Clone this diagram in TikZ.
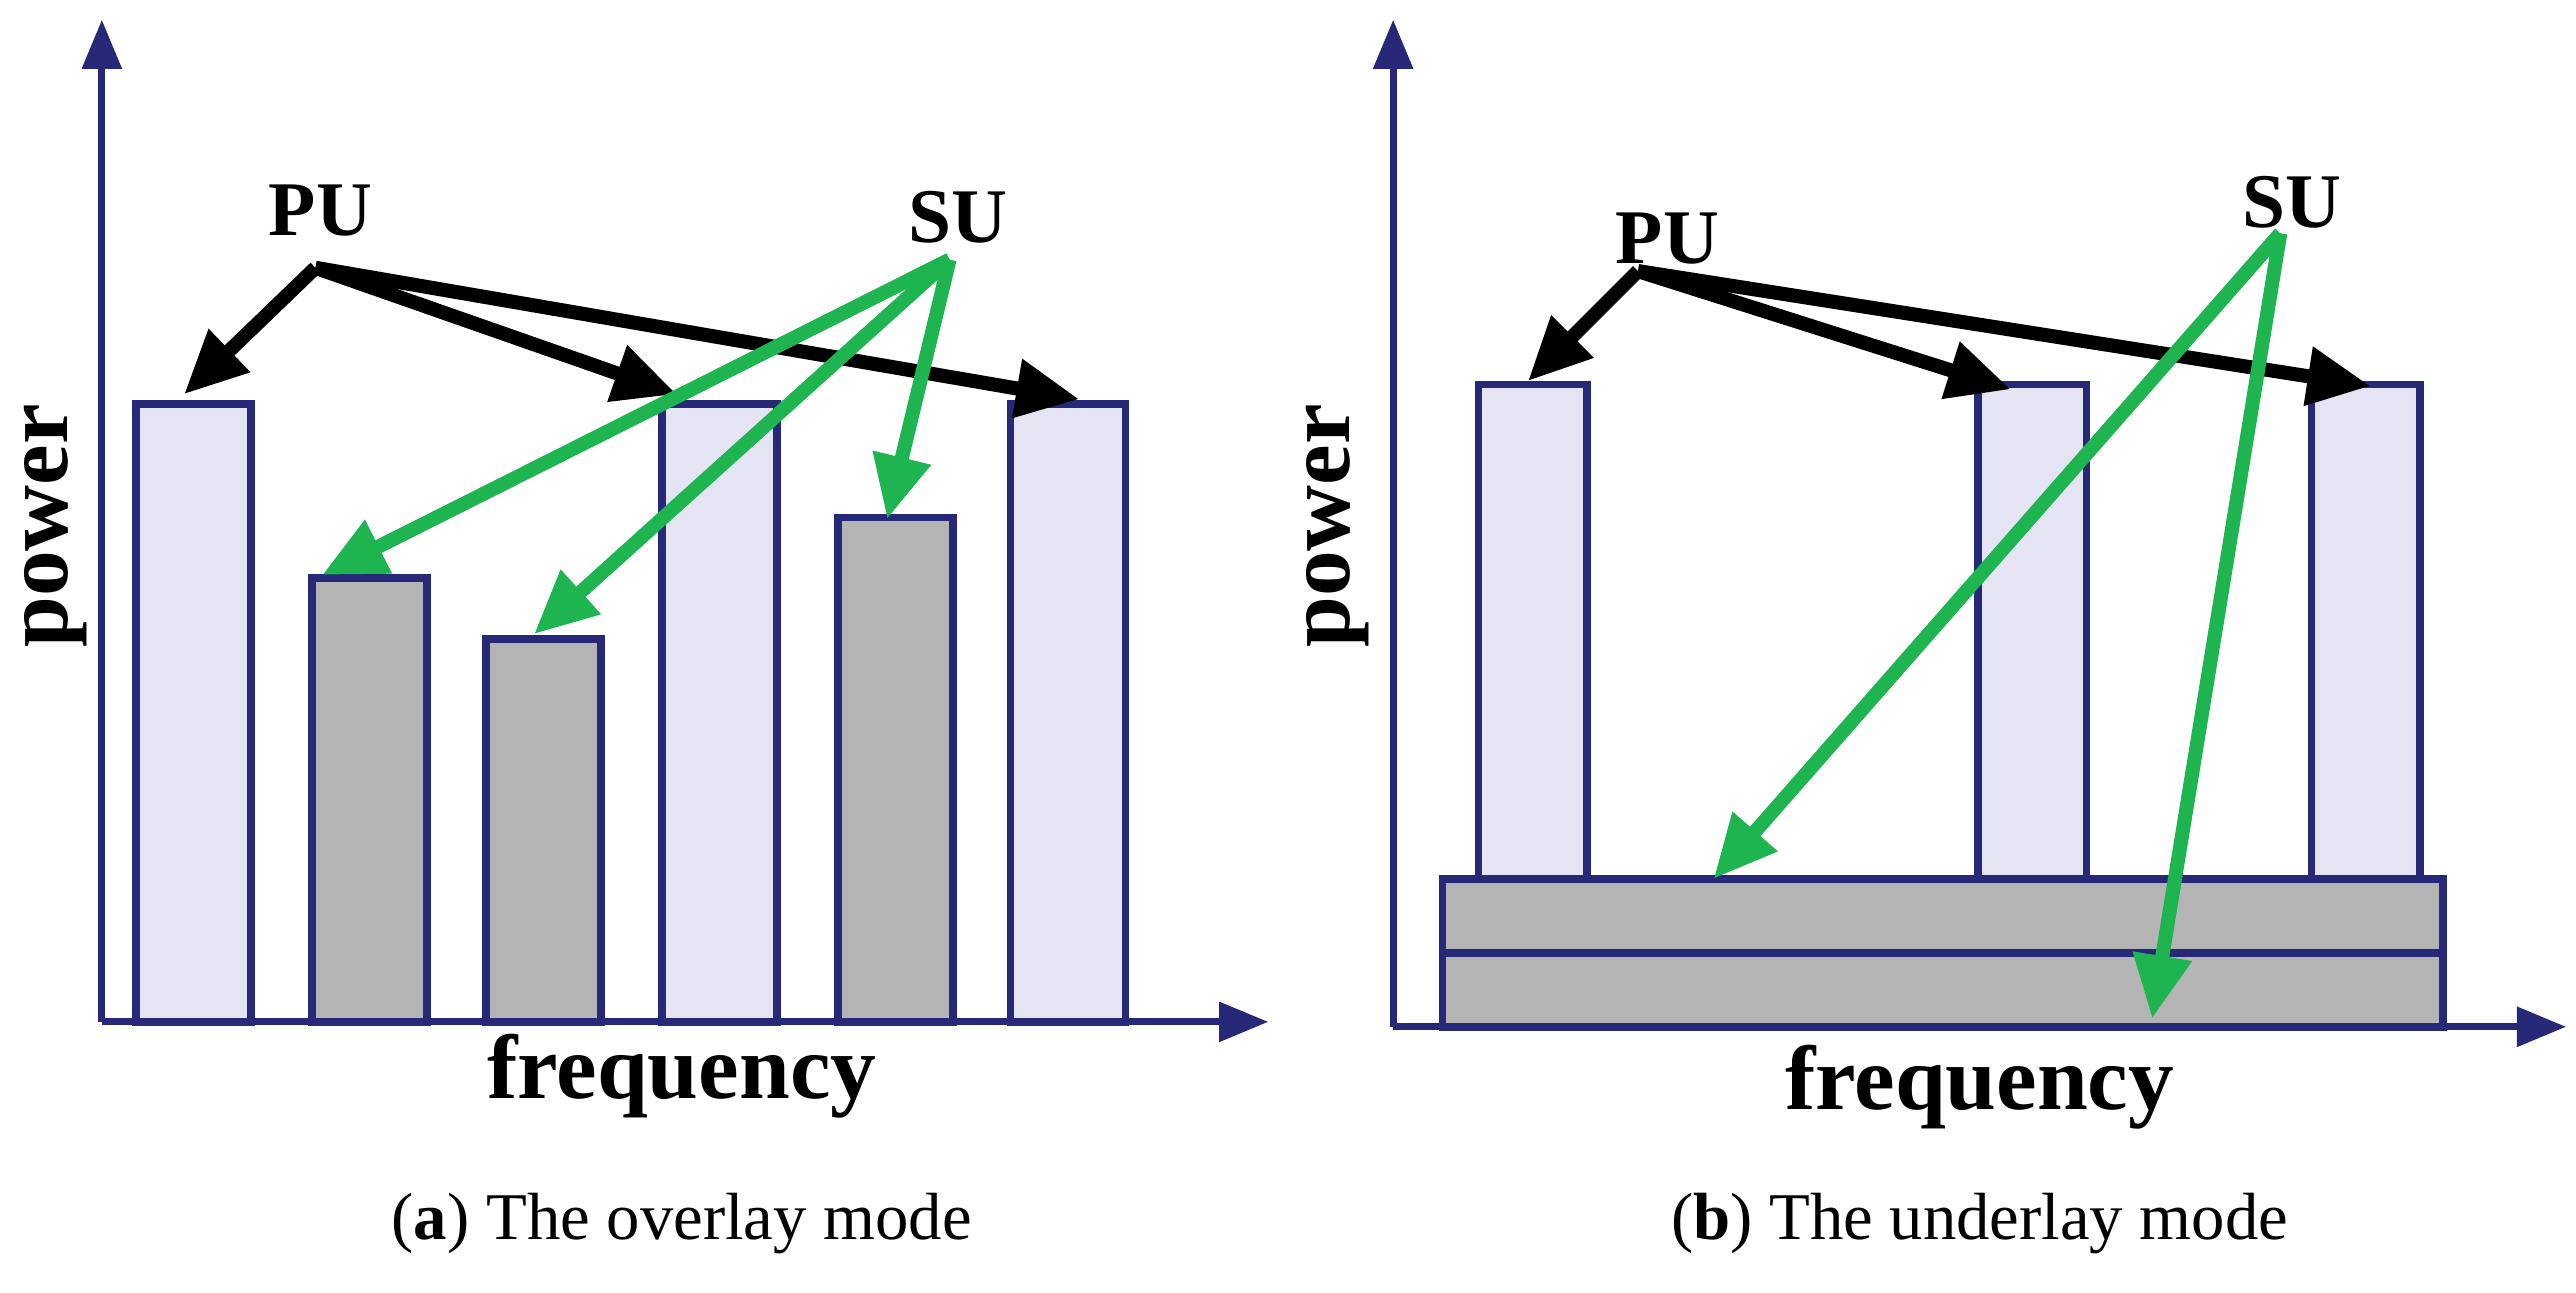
\documentclass[tikz,border=0pt]{standalone}
\usepackage{fontspec}
\setmainfont{Liberation Serif}
\usetikzlibrary{arrows.meta, positioning}

\definecolor{axisblue}{RGB}{40,40,120}
\definecolor{barlight}{RGB}{228,228,242}
\definecolor{bargray}{RGB}{180,180,180}
\definecolor{sugreen}{RGB}{30,180,80}

\tikzset{
  axis/.style={axisblue, line width=2pt, -{Triangle[length=14pt,width=11pt]}},
  pubar/.style={draw=axisblue, fill=barlight, line width=2.2pt},
  subar/.style={draw=axisblue, fill=bargray, line width=2.2pt},
  puarrow/.style={black, line width=4pt, -{Triangle[length=18pt,width=16pt]}},
  suarrow/.style={sugreen, line width=4pt, -{Triangle[length=18pt,width=16pt]}},
  user/.style={font=\fontsize{22}{26}\selectfont\bfseries},
  axislabel/.style={font=\fontsize{26}{30}\selectfont\bfseries},
  caption/.style={font=\fontsize{19}{22}\selectfont}
}

\begin{document}
\begin{tikzpicture}[x=0.01643cm, y=-0.01643cm]
\useasboundingbox (0,0) rectangle (1568,787);

% (a) overlay mode
\coordinate (oa) at (62,622);
\coordinate (ay) at (62,12);
\coordinate (ax) at (772,622);
\draw[axis] (oa) -- (ay);
\draw[axis] (oa) -- (ax);
\draw[pubar] (83,622) rectangle (153,246);
\draw[subar] (190,622) rectangle (260,352);
\draw[subar] (296,622) rectangle (366,389);
\draw[pubar] (403,622) rectangle (473,246);
\draw[subar] (510,622) rectangle (580,315);
\draw[pubar] (615,622) rectangle (685,246);
\node[user] (pua) at (195,128) {PU};
\node[user] (sua) at (583,132) {SU};
\coordinate (pusrca) at (192,163);
\coordinate (susrca) at (578,158);
\draw[puarrow] (pusrca) -- (112,240);
\draw[puarrow] (pusrca) -- (412,240);
\draw[puarrow] (pusrca) -- (657,243);
\draw[suarrow] (susrca) -- (196,350);
\draw[suarrow] (susrca) -- (325,386);
\draw[suarrow] (susrca) -- (540,316);
\node[axislabel, rotate=90] (powa) at (34,320) {power};
\node[axislabel] (freqa) at (415,655) {frequency};
\node[caption] (capa) at (415,745) {(\textbf{a}) The overlay mode};

% (b) underlay mode
\coordinate (ob) at (848,625);
\coordinate (by) at (848,12);
\coordinate (bx) at (1562,625);
\draw[axis] (ob) -- (by);
\draw[axis] (ob) -- (bx);
\draw[pubar] (900,535) rectangle (966,234);
\draw[pubar] (1204,535) rectangle (1270,234);
\draw[pubar] (1407,535) rectangle (1473,234);
\draw[subar] (878,535) rectangle (1487,580);
\draw[subar] (878,580) rectangle (1487,625);
\node[user] (pub) at (1015,145) {PU};
\node[user] (sub) at (1395,123) {SU};
\coordinate (pusrcb) at (997,165);
\coordinate (susrcb) at (1388,142);
\draw[puarrow] (pusrcb) -- (930,232);
\draw[puarrow] (pusrcb) -- (1224,237);
\draw[puarrow] (pusrcb) -- (1443,235);
\draw[suarrow] (susrcb) -- (1043,535);
\draw[suarrow] (susrcb) -- (1310,620);
\node[axislabel, rotate=90] (powb) at (814,320) {power};
\node[axislabel] (freqb) at (1205,662) {frequency};
\node[caption] (capb) at (1205,745) {(\textbf{b}) The underlay mode};
\end{tikzpicture}
\end{document}
